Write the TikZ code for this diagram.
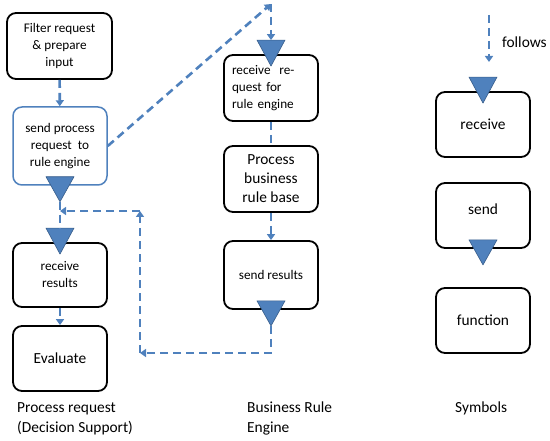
\documentclass[tikz,border=0pt]{standalone}
\usepackage{fontspec}
\setmainfont{Carlito}
\usetikzlibrary{arrows.meta,calc}
\definecolor{flowblue}{RGB}{79,129,189}
\definecolor{tridark}{RGB}{56,93,138}
\tikzset{
  box/.style={draw=black, line width=1.8pt, rounded corners=9pt, minimum width=94pt,
    minimum height=65pt, align=center, inner sep=2pt},
  small/.style={font=\fontsize{13.2}{17}\selectfont},
  big/.style={font=\fontsize{15.4}{19}\selectfont},
  flow/.style={draw=flowblue, line width=2.6pt, dash pattern=on 8pt off 5pt},
  tri/.style={fill=flowblue, draw=tridark, line width=0.6pt, line join=round},
  caption/.style={anchor=north west, align=left, inner sep=0pt, font=\fontsize{15.4}{20}\selectfont},
}
% triangle under the box = send, triangle over the box = receive
\newcommand{\sendmark}[1]{%
  \coordinate (#1-base) at ($(#1.south)+(0,-9)$);
  \coordinate (#1-tip) at ($(#1.south)+(0,16)$);
  \filldraw[tri] ($(#1-base)+(-14,0)$) -- ($(#1-base)+(14,0)$) -- (#1-tip) -- cycle;}
\newcommand{\recvmark}[1]{%
  \coordinate (#1-base) at ($(#1.north)+(0,-14)$);
  \coordinate (#1-tip) at ($(#1.north)+(0,12)$);
  \filldraw[tri] ($(#1-base)+(-14,0)$) -- ($(#1-base)+(14,0)$) -- (#1-tip) -- cycle;}
\begin{document}
\begin{tikzpicture}[x=1pt,y=-1pt,>={Triangle[width=8pt,length=6pt]}] % y vers le bas
\useasboundingbox (0,0) rectangle (550,441);
% colonne gauche
\node[box,small,minimum width=105pt,minimum height=66pt] (filter) at (59.5,46) {Filter request\\\& prepare\\input};
\node[box,small,draw=flowblue,line width=1.5pt,minimum height=78pt] (sendproc) at (60,146) {send process\\request~ to\\rule engine};
\node[box,small,minimum height=64pt] (recvres) at (60,275) {receive\\results};
\node[box,big] (evaluate) at (60,358.5) {Evaluate};
% colonne du milieu
\node[box,small,minimum height=66pt,text width=78pt,align=left] (recvreq) at (271,88) {receive~ re-\\quest for\\rule engine};
\node[box,big,minimum height=66pt] (process) at (271,179) {Process\\business\\rule base};
\node[box,small,minimum height=68pt] (sendres) at (271,275) {send results};
% symboles
\node[box,big] (symrecv) at (483,124.5) {receive};
\node[box,big] (symsend) at (483,215.5) {\raisebox{12pt}{send}};
\node[box,big] (symfunc) at (483,320.5) {function};
% les triangles
\sendmark{sendproc}
\recvmark{recvres}
\recvmark{recvreq}
\sendmark{sendres}
\recvmark{symrecv}
\sendmark{symsend}
% les flèches
\coordinate (up) at (271,4);
\coordinate (merge) at (60,211);
\coordinate (rb) at (271,353);
\coordinate (lb) at (140,353);
\coordinate (lt) at (140,211);
\coordinate (fa) at (489,15);
\coordinate (fb) at (489,62);
\draw[flow,->] (filter) -- (sendproc);
\draw[flow,->] (sendproc.east) -- (up);
\draw[flow,->] (up) -- (recvreq-base);
\draw[flow] (recvreq) -- (process);
\draw[flow,->] (process) -- (sendres);
\draw[flow,->] (sendres-tip) -- (rb) -- (lb);
\draw[flow,->] (lb) -- (lt);
\draw[flow,->] (lt) -- (merge);
\draw[flow] (sendproc-tip) -- (recvres-base);
\draw[flow,->] (recvres) -- (evaluate);
\draw[flow,->] (fa) -- (fb);
\node[big,anchor=west,inner sep=0pt] (follows) at (502,42) {follows};
% légendes
\node[caption] (capleft) at (17,402) {Process request\\(Decision Support)};
\node[caption] (capmid) at (247,402) {Business Rule\\Engine};
\node[caption] (capright) at (455,402) {Symbols};
\end{tikzpicture}
\end{document}
